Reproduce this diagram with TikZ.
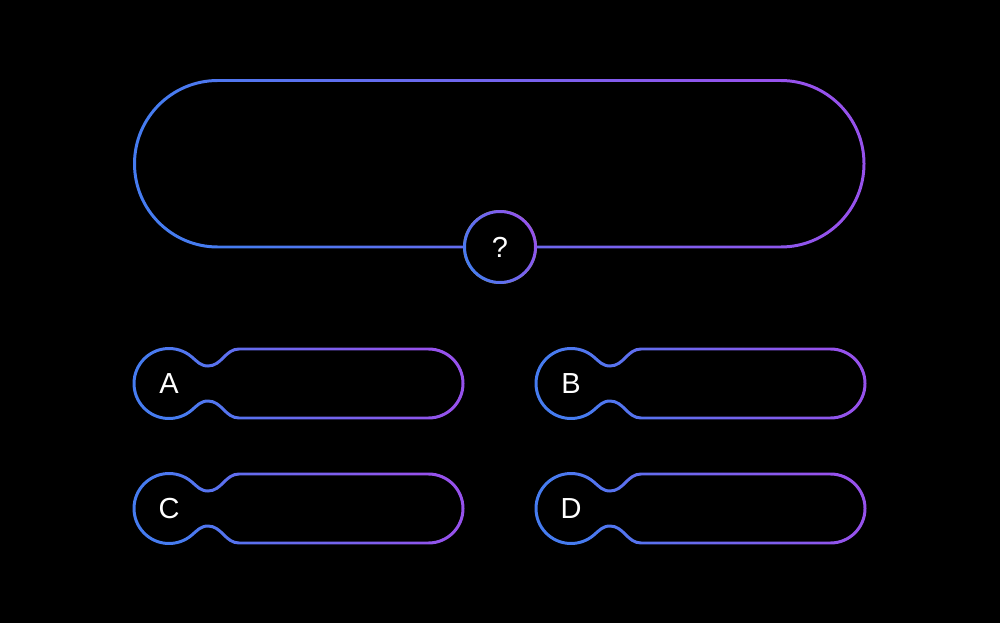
\documentclass[tikz,border=0pt]{standalone}
\usepackage{fontspec}
\setmainfont{Liberation Sans}
\usetikzlibrary{positioning}
\definecolor{quizblue}{RGB}{70,124,240}
\definecolor{quizpurple}{RGB}{150,82,236}
\tikzset{
  outline/.style={draw=white, line width=1.7pt},
  glow/.style={top color=quizpurple, bottom color=quizblue, shading angle=-62},
  letter/.style={text=white, inner sep=0pt, font={\fontsize{16.5pt}{18pt}\selectfont}}}

\begin{document}
\begin{tikzpicture}[x=0.02cm, y=0.02cm]
\fill[black] (0,0) rectangle (1000,623);
\node[circle, minimum size=1.42cm, inner sep=0pt, outer sep=0pt] (quest) at (500,376) {};
\draw[outline] (quest.east) -- (780.75,376) arc[start angle=-90, end angle=90, radius=83.25]
  -- (217.75,542.5) arc[start angle=90, end angle=270, radius=83.25] -- (quest.west);
\foreach \x/\y in {169/239.5, 571/239.5, 169/114.5, 571/114.5} {
  \begin{scope}[shift={(\x,\y)}]
  \draw[outline] (39,17.5) to[out=180, in=-40] (50:35) arc[start angle=50, end angle=310, radius=35]
    to[out=40, in=180] (39,-17.5) to[out=0, in=180] (70,-34.5) -- (259.5,-34.5)
    arc[start angle=-90, end angle=90, radius=34.5] -- (70,34.5) to[out=180, in=0] (39,17.5) -- cycle;
  \end{scope}
}
\begin{scope}[blend mode=multiply]
\shade[glow] (131,373) rectangle (868,546);
\foreach \x/\y in {169/239.5, 571/239.5, 169/114.5, 571/114.5} {
  \shade[glow] (\x-37.5,\y-37.5) rectangle (\x+296.5,\y+37.5);
}
\end{scope}
\draw[outline] (quest.center) circle[radius=35.5];
\shade[glow, blend mode=multiply] (quest.center) circle[radius=37];
\node[letter] (qmark) at (quest) {?};
\foreach \name/\x/\y in {A/169/239.5, B/571/239.5, C/169/114.5, D/571/114.5} {
  \node[letter] (ans\name) at (\x,\y) {\name};
}
\end{tikzpicture}
\end{document}
